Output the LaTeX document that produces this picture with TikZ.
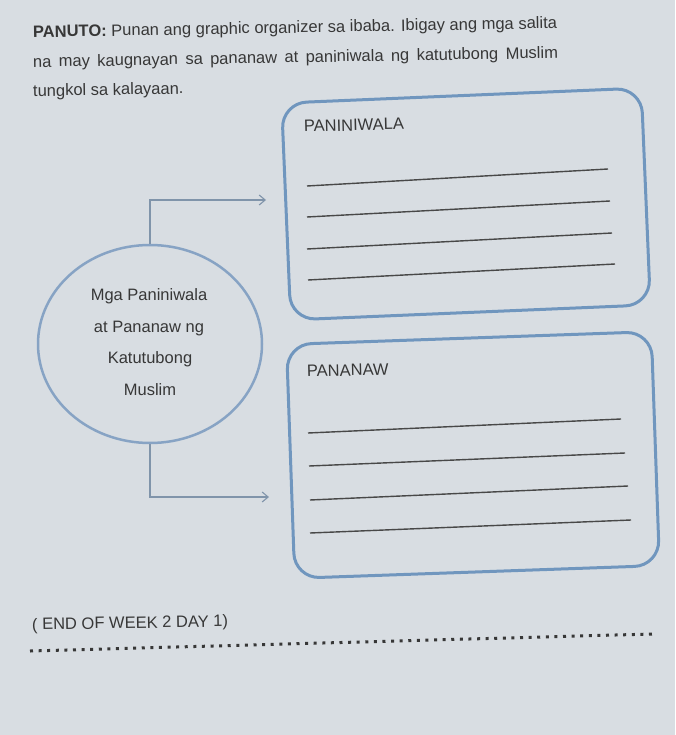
\documentclass[tikz,border=0pt]{standalone}
\usepackage{fontspec}
\setmainfont{Liberation Sans}
\usetikzlibrary{arrows.meta,shapes.geometric}
\definecolor{paper}{RGB}{216,221,226}
\definecolor{boxblue}{RGB}{112,150,190}
\definecolor{circblue}{RGB}{135,163,196}
\definecolor{ink}{RGB}{55,55,55}
\definecolor{wline}{RGB}{72,72,72}
\definecolor{connc}{RGB}{128,148,170}
\definecolor{dotc}{RGB}{55,55,55}
\begin{document}
\begin{tikzpicture}[x=1pt,y=-1pt,
  txt/.style={font=\fontsize{16.5}{20}\selectfont, text=ink, inner sep=0pt},
  card/.style={draw=boxblue, line width=3pt, rounded corners=25pt, inner sep=0pt},
  wl/.style={draw=wline, line width=1.4pt},
  connector/.style={draw=connc, line width=1.1pt, -{Straight Barb[length=6pt,width=10pt]}},
  dotline/.style={draw=dotc, line width=3pt, dash pattern=on 3pt off 5.6pt},
  ]
\fill[paper] (0,0) rectangle (675,735);
\useasboundingbox (0,0) rectangle (675,735);

% header
\node[txt, anchor=base west, rotate=1] (l1) at (33,37.5) {\makebox[524pt][s]{\textbf{PANUTO:} Punan ang graphic organizer sa ibaba. Ibigay ang mga salita}};
\node[txt, anchor=base west, rotate=1] (l2) at (33,67.3) {\makebox[525pt][s]{na may kaugnayan sa pananaw at paniniwala ng katutubong Muslim}};
\node[txt, anchor=base west, rotate=1] (l3) at (33,96.5) {tungkol sa kalayaan.};

% boxes
\node[card, minimum width=360pt, minimum height=217pt, rotate=2.4] (pan) at (466,204) {};
\node[card, minimum width=365pt, minimum height=234pt, rotate=2] (pnw) at (473,455) {};

\node[txt, anchor=base west, rotate=1.5] (panl) at (304,132) {PANINIWALA};
\node[txt, anchor=base west, rotate=1.5] (pnwl) at (307,377) {PANANAW};

% writing lines
\draw[wl] (307,186) -- (608,169);
\draw[wl] (307,217) -- (610,201);
\draw[wl] (307,249) -- (612,233);
\draw[wl] (308,280) -- (615,264);

\draw[wl] (308,433) -- (621,419);
\draw[wl] (309,466) -- (625,453);
\draw[wl] (310,500) -- (628,486);
\draw[wl] (310,533) -- (631,520);

% central ellipse
\node[draw=circblue, line width=2.5pt, ellipse, minimum width=224pt, minimum height=198pt, inner sep=0pt] (c) at (150,344) {};
\node[txt, anchor=base] (t1) at (149,300) {Mga Paniniwala};
\node[txt, anchor=base] (t2) at (149,332) {at Pananaw ng};
\node[txt, anchor=base] (t3) at (150,363) {Katutubong};
\node[txt, anchor=base] (t4) at (150,395) {Muslim};

% connectors
\coordinate (a1) at (266,200);
\coordinate (a2) at (269,497);
\draw[connector] (c.north) |- (a1);
\draw[connector] (c.south) |- (a2);

% footer
\node[txt, anchor=base west, rotate=1] (endt) at (32,630) {( END OF WEEK 2 DAY 1)};
\coordinate (d1) at (30,651);
\coordinate (d2) at (652,634);
\draw[dotline] (d1) -- (d2);
\end{tikzpicture}
\end{document}
